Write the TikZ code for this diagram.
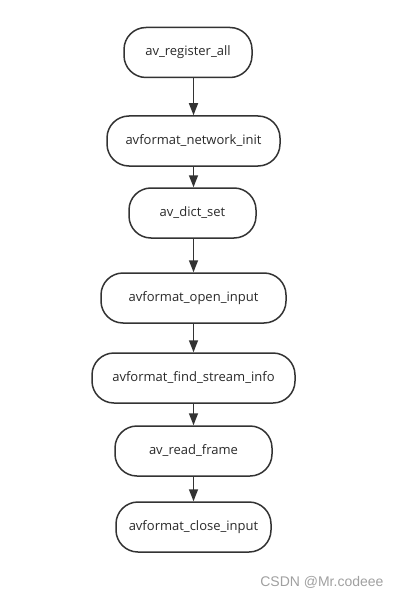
\documentclass[tikz,border=0pt]{standalone}
\usepackage{fontspec}
\setmainfont{Open Sans}
\newfontfamily\markfont{Liberation Sans}
\usetikzlibrary{arrows.meta}
\usetikzlibrary{positioning}
\definecolor{edgegray}{HTML}{333333}
\definecolor{markgray}{HTML}{A0A0A0}
\tikzset{callbox/.style={draw = edgegray, line width = 1.5pt, rounded corners = 22pt, minimum height = 50pt, inner sep = 0pt, font = \fontsize{13pt}{15pt}\selectfont, text = edgegray!80!black},
	callarrow/.style={draw = edgegray, line width = 1.5pt, -{Triangle[length=12pt, width=9pt]}}}

\begin{document}
\begin{tikzpicture}[x = 1pt, y = -1pt]

					\useasboundingbox (0,0) rectangle (402,596);

					\node[callbox, minimum width = 128pt] (regall) at (188,52.5) {av\_register\_all};
					\node[callbox, minimum width = 173pt] (netinit) at (193.5,141) {avformat\_network\_init};
					\node[callbox, minimum width = 127pt] (dictset) at (192.5,213) {av\_dict\_set};
					\node[callbox, minimum width = 185pt] (openin) at (193.5,298) {avformat\_open\_input};
					\node[callbox, minimum width = 203pt] (findinfo) at (193.5,378) {avformat\_find\_stream\_info};
					\node[callbox, minimum width = 157pt] (readframe) at (193.5,451) {av\_read\_frame};
					\node[callbox, minimum width = 155pt] (closein) at (193.5,527) {avformat\_close\_input};

					\draw[callarrow] (regall.south -| netinit.north) -- (netinit.north);
					\draw[callarrow] (netinit.south) -- (netinit.south |- dictset.north);
					\draw[callarrow] (dictset.south -| openin.north) -- (openin.north);
					\draw[callarrow] (openin.south) -- (findinfo.north);
					\draw[callarrow] (findinfo.south) -- (readframe.north);
					\draw[callarrow] (readframe.south) -- (closein.north);

					\node[font = \markfont\fontsize{14pt}{16pt}\selectfont, text = markgray, anchor = east] (mark) at (387,582) {CSDN @Mr.codeee};

				\end{tikzpicture}
\end{document}
